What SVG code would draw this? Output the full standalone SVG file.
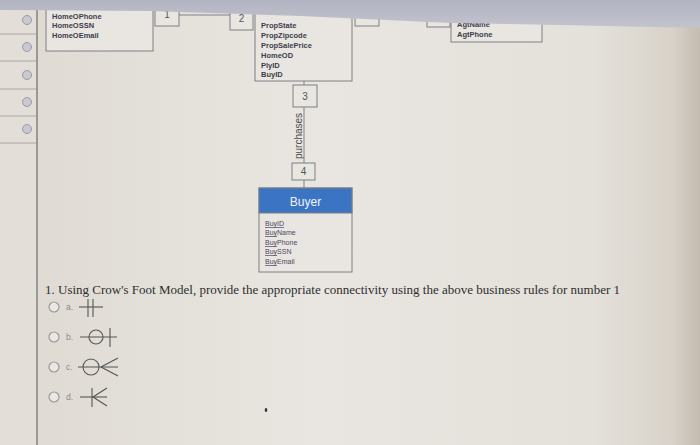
<svg xmlns="http://www.w3.org/2000/svg" width="700" height="445" viewBox="0 0 700 445">
<defs>
<linearGradient id="bg" x1="0" y1="0" x2="1" y2="0">
<stop offset="0" stop-color="#dedad2"/>
<stop offset="0.45" stop-color="#e9e6e1"/>
<stop offset="0.85" stop-color="#e4e0da"/>
<stop offset="0.96" stop-color="#d8d2c9"/>
<stop offset="1" stop-color="#c4bcb0"/>
</linearGradient>
<linearGradient id="band" x1="0" y1="0" x2="0" y2="1">
<stop offset="0" stop-color="#b3b4c3"/>
<stop offset="1" stop-color="#c3c3cd"/>
</linearGradient>
<style>
.box{fill:#e9e6e1;stroke:#7e7e84;stroke-width:1}
.attr{font-family:"Liberation Sans",Arial,sans-serif;font-size:7.5px;font-weight:bold;fill:#3c3c4c}
.battr{font-family:"Liberation Sans",Arial,sans-serif;font-size:7px;fill:#4a4660}
.num{font-family:"Liberation Sans",Arial,sans-serif;font-size:10px;fill:#555;text-anchor:middle}
.conn{stroke:#808086;stroke-width:1;fill:none}
.opt{font-family:"Liberation Sans",Arial,sans-serif;font-size:8.5px;fill:#8a8a8a}
.radio{fill:#ebe8e3;stroke:#9a9a9a;stroke-width:1.2}
.sym{stroke:#555;stroke-width:1.1;fill:none}
.lrad{fill:#c9c9d2;stroke:#9a9aa4;stroke-width:1}
.sep{stroke:#aaa8a4;stroke-width:1}
</style>
</defs>
<rect width="700" height="445" fill="url(#bg)"/>
<!-- left panel -->
<g id="left-panel">
<rect x="0" y="0" width="36" height="445" fill="#e3dfd8"/>
<line class="sep" x1="0" y1="34" x2="36" y2="34"/>
<line class="sep" x1="0" y1="61" x2="36" y2="61"/>
<line class="sep" x1="0" y1="89" x2="36" y2="89"/>
<line class="sep" x1="0" y1="116" x2="36" y2="116"/>
<line class="sep" x1="0" y1="143" x2="36" y2="143"/>
<circle class="lrad" cx="27" cy="20" r="4.5"/>
<circle class="lrad" cx="27" cy="47" r="4.5"/>
<circle class="lrad" cx="27" cy="75" r="4.5"/>
<circle class="lrad" cx="27" cy="102" r="4.5"/>
<circle class="lrad" cx="27" cy="129" r="4.5"/>
<line x1="37" y1="0" x2="37" y2="445" stroke="#6e6c6a" stroke-width="1.2"/>
</g>
<!-- connectors -->
<g id="connectors">
<line class="conn" x1="179" y1="15" x2="230" y2="15"/>
<line class="conn" x1="379" y1="15" x2="427" y2="15"/>
<line class="conn" x1="304" y1="81" x2="304" y2="85"/>
<line class="conn" x1="304" y1="107" x2="304" y2="163"/>
<line class="conn" x1="304" y1="180" x2="304" y2="188"/>
<text transform="translate(302,136) rotate(-90)" text-anchor="middle" font-family="Liberation Sans, Arial, sans-serif" font-size="10" fill="#4a4a4a">purchases</text>
</g>
<!-- nodes -->
<g id="homeowner">
<rect class="box" x="46" y="-2" width="107" height="53"/>
<text class="attr" x="52" y="19">HomeOPhone</text>
<text class="attr" x="52" y="28">HomeOSSN</text>
<text class="attr" x="52" y="38">HomeOEmail</text>
</g>
<g id="card1">
<rect class="box" x="155" y="6" width="24" height="20"/>
<text class="num" x="167" y="18">1</text>
</g>
<g id="card2">
<rect class="box" x="230" y="8" width="23" height="22"/>
<text class="num" x="241.5" y="22">2</text>
</g>
<g id="property">
<rect class="box" x="255" y="-2" width="97" height="83"/>
<text class="attr" x="261" y="28">PropState</text>
<text class="attr" x="261" y="38">PropZipcode</text>
<text class="attr" x="261" y="48">PropSalePrice</text>
<text class="attr" x="261" y="58">HomeOD</text>
<text class="attr" x="261" y="68">PlyID</text>
<text class="attr" x="261" y="77">BuyID</text>
</g>
<g id="card5">
<rect class="box" x="355" y="6" width="24" height="20"/>
</g>
<g id="card6">
<rect class="box" x="427" y="6" width="23" height="21"/>
</g>
<g id="agent">
<rect class="box" x="451" y="-2" width="91" height="44"/>
<text class="attr" x="457" y="27">AgtName</text>
<text class="attr" x="457" y="37">AgtPhone</text>
</g>
<g id="card3">
<rect class="box" x="293" y="85" width="24" height="22"/>
<text class="num" x="305" y="100">3</text>
</g>
<g id="card4">
<rect class="box" x="292" y="163" width="23" height="17"/>
<text class="num" x="303.5" y="175">4</text>
</g>
<g id="buyer">
<rect class="box" x="259" y="188" width="93" height="84"/>
<rect x="259" y="188" width="93" height="25" fill="#3b74c2" stroke="#7e7e84" stroke-width="1"/>
<text x="305.5" y="206" text-anchor="middle" font-family="Liberation Sans, Arial, sans-serif" font-size="12" fill="#f2f4f8">Buyer</text>
<text class="battr" x="265" y="226" text-decoration="underline">BuyID</text>
<text class="battr" x="265" y="235"><tspan text-decoration="underline">Buy</tspan>Name</text>
<text class="battr" x="265" y="245"><tspan text-decoration="underline">Buy</tspan>Phone</text>
<text class="battr" x="265" y="254"><tspan text-decoration="underline">Buy</tspan>SSN</text>
<text class="battr" x="265" y="264"><tspan text-decoration="underline">Buy</tspan>Email</text>
</g>
<!-- top screen band -->
<polygon points="0,0 700,0 700,28 560,25 450,23 300,16 150,11 0,10" fill="url(#band)"/>
<!-- question -->
<g id="question">
<text x="45" y="294" font-family="Liberation Serif, Times New Roman, serif" font-size="12" fill="#2e2e2e" textLength="575" lengthAdjust="spacingAndGlyphs">1. Using Crow's Foot Model, provide the appropriate connectivity using the above business rules for number 1</text>
</g>
<g id="option-a">
<circle class="radio" cx="54" cy="307" r="5"/>
<text class="opt" x="66" y="310">a.</text>
<line class="sym" x1="79" y1="307" x2="103" y2="307"/>
<line class="sym" x1="88" y1="299" x2="88" y2="317"/>
<line class="sym" x1="93" y1="299" x2="93" y2="317"/>
</g>
<g id="option-b">
<circle class="radio" cx="54" cy="337" r="5"/>
<text class="opt" x="66" y="340">b.</text>
<line class="sym" x1="80" y1="337" x2="117" y2="337"/>
<circle class="sym" cx="96" cy="337" r="7"/>
<line class="sym" x1="110" y1="328" x2="110" y2="347"/>
</g>
<g id="option-c">
<circle class="radio" cx="54" cy="367" r="5"/>
<text class="opt" x="66" y="370">c.</text>
<line class="sym" x1="78" y1="367" x2="118" y2="367"/>
<circle class="sym" cx="91" cy="367" r="8"/>
<line class="sym" x1="101" y1="367" x2="118" y2="358"/>
<line class="sym" x1="101" y1="367" x2="118" y2="376"/>
</g>
<g id="option-d">
<circle class="radio" cx="54" cy="397" r="5"/>
<text class="opt" x="66" y="400">d.</text>
<line class="sym" x1="80" y1="397" x2="107" y2="397"/>
<line class="sym" x1="92" y1="388" x2="92" y2="407"/>
<line class="sym" x1="93" y1="397" x2="107" y2="388"/>
<line class="sym" x1="93" y1="397" x2="107" y2="406"/>
</g>
<ellipse cx="266" cy="410" rx="1.3" ry="2" fill="#333"/>
</svg>
